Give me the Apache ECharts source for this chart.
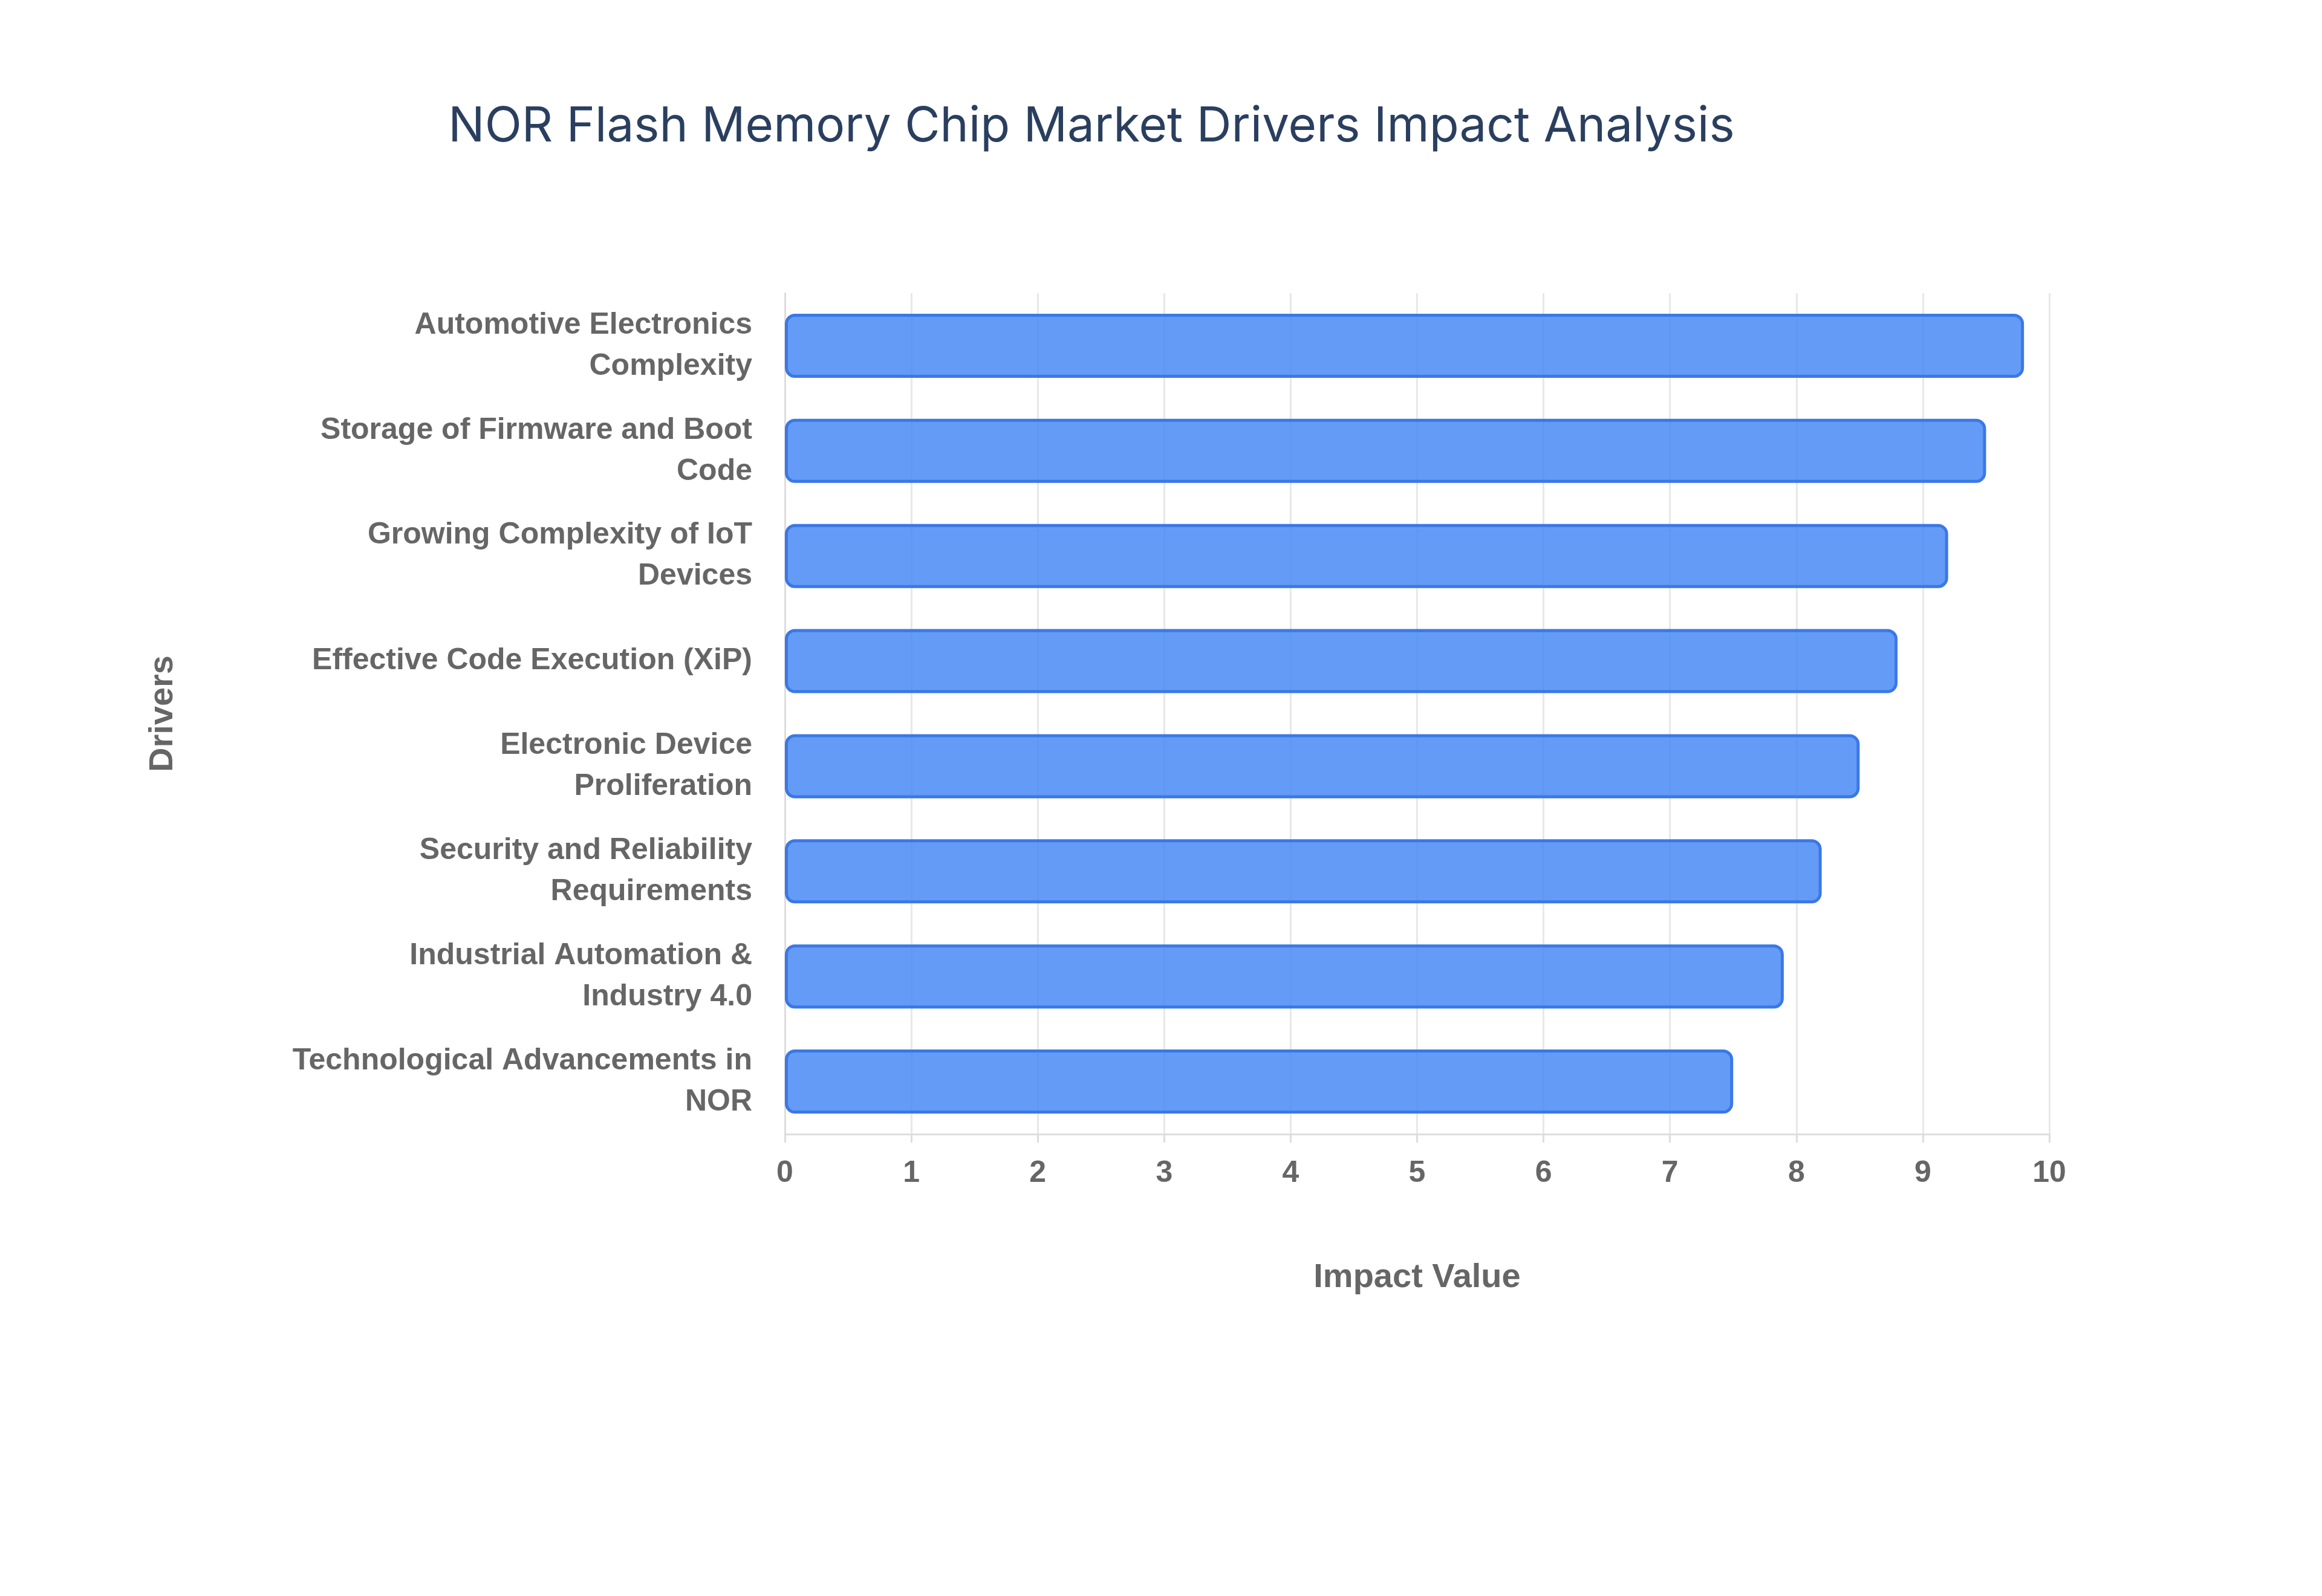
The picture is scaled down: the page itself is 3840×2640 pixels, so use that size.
<!DOCTYPE html>
<html><head><meta charset="utf-8">
<script src="https://cdn.jsdelivr.net/npm/echarts@6/dist/echarts.min.js"></script>
<style>html,body{margin:0;padding:0;background:#fff}#c{width:3840px;height:2640px}</style>
</head><body><div id="c"></div>
<script>
const categories = [
  "Technological Advancements in\nNOR",
  "Industrial Automation &\nIndustry 4.0",
  "Security and Reliability\nRequirements",
  "Electronic Device\nProliferation",
  "Effective Code Execution (XiP)",
  "Growing Complexity of IoT\nDevices",
  "Storage of Firmware and Boot\nCode",
  "Automotive Electronics\nComplexity"
];
const values = [7.5, 7.9, 8.2, 8.5, 8.8, 9.2, 9.5, 9.8];
const xTicks = [0,1,2,3,4,5,6,7,8,9,10];

const chart = echarts.init(document.getElementById('c'));
chart.setOption({
  backgroundColor:'#fff',
  title:{text:'NOR Flash Memory Chip Market Drivers Impact Analysis',left:1800,top:165,textAlign:'center',
    textStyle:{fontFamily:'Inter',fontWeight:'normal',fontSize:80,color:'#2a3f5f'}},
  grid:{left:1298,right:451,top:485,bottom:764},
  xAxis:{type:'value',min:0,max:10,interval:1,
    name:'Impact Value',nameLocation:'middle',nameGap:210,
    nameTextStyle:{fontFamily:'Liberation Sans',fontWeight:'bold',fontSize:56,color:'#666'},
    axisLine:{show:true,lineStyle:{color:'#ddd',width:3}},axisTick:{show:true,length:14,lineStyle:{color:'#ddd',width:3}},
    axisLabel:{fontFamily:'Liberation Sans',fontWeight:'bold',fontSize:50,color:'#666',margin:40,formatter:v=>xTicks.includes(v)?String(v):''},
    splitLine:{show:true,lineStyle:{color:'#e8e8e8',width:3}}},
  yAxis:{type:'category',data:categories,
    name:'Drivers',nameLocation:'middle',nameGap:1000,nameRotate:90,
    nameTextStyle:{fontFamily:'Liberation Sans',fontWeight:'bold',fontSize:56,color:'#666'},
    axisLine:{show:true,lineStyle:{color:'#ddd',width:3}},axisTick:{show:false},
    axisLabel:{fontFamily:'Liberation Sans',fontWeight:'bold',fontSize:50,color:'#666',margin:54,lineHeight:68,align:'right'}},
  series:[{type:'bar',data:values,barWidth:'61%',
    itemStyle:{color:'rgba(66,133,244,0.82)',borderColor:'#3a78e6',borderWidth:5,borderRadius:14}}]
});
</script></body></html>
